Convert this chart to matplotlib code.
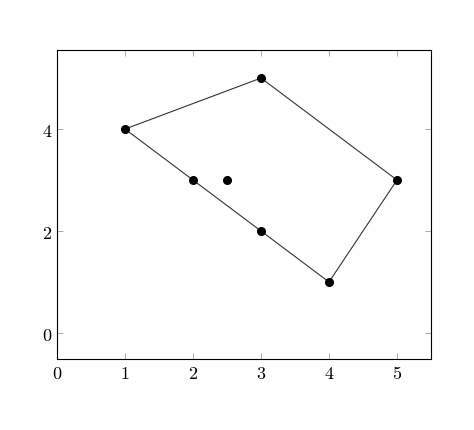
import matplotlib
matplotlib.use("Agg")
import matplotlib.pyplot as plt

plt.rcParams['mathtext.fontset'] = 'cm'
plt.rcParams['font.family'] = 'serif'

# points and hull
px = [1, 2, 2.5, 3, 4, 5, 3]
py = [4, 3, 3, 2, 1, 3, 5]
hull_x = [1, 3, 5, 4, 1]
hull_y = [4, 5, 3, 1, 4]

fig = plt.figure(figsize=(4.74, 4.31), dpi=100)
ax = fig.add_axes([57/474, 1 - 360/431, (431-57)/474, (360-51)/431])
ax.plot(hull_x, hull_y, color='#333333', lw=0.8)
ax.plot(px, py, 'o', color='black', ms=5.5)
ax.set_xlim(0, 5.5)
ax.set_ylim(-0.51, 5.55)
ax.set_xticks([0, 1, 2, 3, 4, 5])
ax.set_yticks([0, 2, 4])
ax.set_xticklabels([f'${v}$' for v in [0, 1, 2, 3, 4, 5]], fontsize=13)
ax.set_yticklabels([f'${v}$' for v in [0, 2, 4]], fontsize=13)
ax.tick_params(direction='in', top=True, right=True, length=4, width=0.5, color='#888888')
for s in ax.spines.values():
    s.set_linewidth(0.8)
fig.savefig('out.png', dpi=100)
